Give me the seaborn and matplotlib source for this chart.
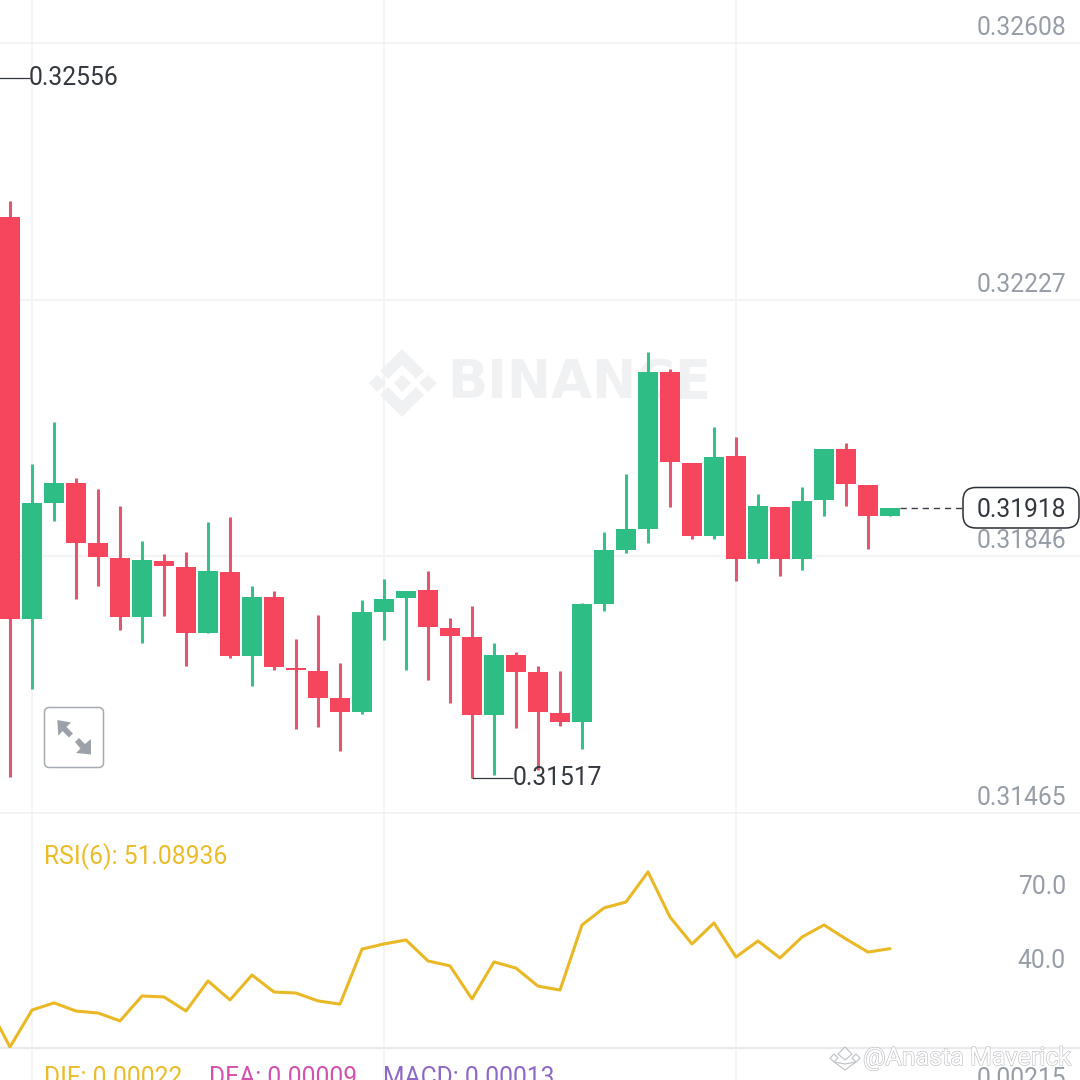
import matplotlib
matplotlib.use("Agg")
import matplotlib.pyplot as plt
import matplotlib.patheffects as pe
from matplotlib.patches import FancyBboxPatch, Polygon
import numpy as np
import pandas as pd
import seaborn as sns

# candle values
opens = [0.32350, 0.31753, 0.31925, 0.31955, 0.31866, 0.31844, 0.31756, 0.31839, 0.31830, 0.31732,
         0.31823, 0.31698, 0.31786, 0.31680, 0.31676, 0.31636, 0.31615, 0.31763, 0.31784, 0.31796,
         0.31740, 0.31726, 0.31610, 0.31700, 0.31674, 0.31613, 0.31600, 0.31775, 0.31855, 0.31887,
         0.32120, 0.31985, 0.31876, 0.31995, 0.31842, 0.31919, 0.31842, 0.31930, 0.32005, 0.31952,
         0.31906]
closes = [0.31753, 0.31925, 0.31955, 0.31866, 0.31845, 0.31756, 0.31841, 0.31832, 0.31732, 0.31824,
          0.31698, 0.31786, 0.31682, 0.31677, 0.31636, 0.31615, 0.31763, 0.31783, 0.31795, 0.31741,
          0.31728, 0.31610, 0.31700, 0.31674, 0.31615, 0.31600, 0.31775, 0.31855, 0.31887, 0.32120,
          0.31986, 0.31876, 0.31993, 0.31842, 0.31921, 0.31842, 0.31928, 0.32005, 0.31953, 0.31906,
          0.31918]
highs = [0.32374, 0.31983, 0.32045, 0.31962, 0.31946, 0.31921, 0.31869, 0.31849, 0.31852, 0.31897,
         0.31904, 0.31802, 0.31795, 0.31723, 0.31759, 0.31688, 0.31781, 0.31812, 0.31795, 0.31824,
         0.31754, 0.31772, 0.31717, 0.31704, 0.31683, 0.31676, 0.31777, 0.31882, 0.31968, 0.32149,
         0.32124, 0.31985, 0.32038, 0.32023, 0.31939, 0.31919, 0.31949, 0.32005, 0.32014, 0.31952,
         0.31918]
lows = [0.31518, 0.31649, 0.31898, 0.31783, 0.31802, 0.31737, 0.31717, 0.31757, 0.31683, 0.31732,
        0.31695, 0.31653, 0.31677, 0.31590, 0.31593, 0.31557, 0.31612, 0.31722, 0.31677, 0.31662,
        0.31628, 0.31517, 0.31521, 0.31591, 0.31529, 0.31594, 0.31560, 0.31765, 0.31851, 0.31866,
        0.31919, 0.31872, 0.31872, 0.31809, 0.31836, 0.31817, 0.31826, 0.31906, 0.31921, 0.31857,
        0.31906]
rsi_values = [28.2, 11.2, 26.2, 29.1, 25.8, 25.0, 21.8, 31.9, 31.5, 25.8, 38.0, 30.3, 40.4, 33.5,
              33.1, 29.9, 28.6, 50.9, 53.0, 54.6, 46.1, 44.1, 30.7, 45.7, 43.2, 35.9, 34.3, 60.7,
              67.6, 70.0, 82.2, 63.9, 53.0, 61.5, 47.7, 54.2, 47.3, 55.8, 60.7, 55.0, 49.7, 51.09]
price_ticks = [0.32608, 0.32227, 0.31846, 0.31465]
rsi_ticks = [70.0, 40.0]
vgrid_at = [1, 17, 33]

GREEN = "#2EBD85"
RED = "#F6465D"
GREEN_WICK = "#35C08C"
RED_WICK = "#E2566F"
GRID = "#EFF1F3"
SEP = "#E8EAEE"
GREY = "#979DA6"
DARK = "#33373E"
YELLOW = "#E9B824"
FS = 17.7

sns.set_theme(style="white")
plt.rcParams["font.family"] = ["Roboto", "DejaVu Sans"]

PX = 1080
fig = plt.figure(figsize=(10.8, 10.8), dpi=100, facecolor="white")


def panel(top, bottom):
    # axes rectangle given in picture pixels
    ax = fig.add_axes([0, 1 - bottom / PX, 1, (bottom - top) / PX], zorder=1)
    ax.patch.set_alpha(0)
    ax.set_xlim(-10 / 22, 49 - 8 / 22)
    ax.set_xticks(vgrid_at)
    ax.grid(True, axis="x", color=GRID, lw=1.1)
    ax.tick_params(length=0, labelleft=False, labelbottom=False)
    for s in ax.spines.values():
        s.set_visible(False)
    ax.set_axisbelow(True)
    return ax


# layers in picture pixels: watermark under the panels, widgets above
under = fig.add_axes([0, 0, 1, 1], zorder=0)
over = fig.add_axes([0, 0, 1, 1], zorder=3)
for a in (under, over):
    a.set_xlim(0, PX)
    a.set_ylim(PX, 0)
    a.axis("off")
    a.patch.set_alpha(0)

ax_price = panel(0, 813)
ax_rsi = panel(813, 1048)
ax_macd = panel(1048, 1080)

# price panel
df = pd.DataFrame({"idx": np.arange(len(opens)), "open": opens, "close": closes, "high": highs, "low": lows})
df["dir"] = np.where(df["close"] >= df["open"], "up", "down")
df["bottom"] = df[["open", "close"]].min(axis=1)
df["body"] = (df["close"] - df["open"]).abs()

wicks = df.melt(id_vars=["idx", "dir"], value_vars=["high", "low"], value_name="price")
sns.lineplot(data=wicks, x="idx", y="price", hue="dir", units="idx", estimator=None,
             palette={"up": GREEN_WICK, "down": RED_WICK}, lw=2.2, legend=False,
             solid_capstyle="butt", ax=ax_price, zorder=2)
for d, col in [("up", GREEN), ("down", RED)]:
    sub = df[df["dir"] == d].sort_values("idx")
    sns.barplot(data=sub, x="idx", y="body", bottom=sub["bottom"].values, color=col, saturation=1,
                native_scale=True, width=0.89, errorbar=None, ax=ax_price, zorder=3, linewidth=0)

ax_price.set_xlim(-10 / 22, 49 - 8 / 22)
ax_price.set_ylim(0.31465, 0.31465 + 813 * 0.00381 / 256.67)
ax_price.set_yticks(price_ticks)
ax_price.grid(True, axis="y", color=GRID, lw=1.1)
ax_price.set_xlabel("")
ax_price.set_ylabel("")
ax_price.spines["bottom"].set_visible(True)
ax_price.spines["bottom"].set_color(GRID)
ax_price.spines["bottom"].set_linewidth(1.1)

for v in price_ticks:
    ax_price.annotate(f"{v:.5f}", xy=(1 - 14 / PX, v), xycoords=ax_price.get_yaxis_transform(),
                      xytext=(0, 10.9), textcoords="offset points", ha="right", va="center",
                      fontsize=FS, color=GREY, zorder=5)

# high / low / last price markers
max_price = 0.32556
min_price = min(lows)
last_price = closes[-1]
ax_price.hlines(max_price, -1, 0.9, color=DARK, lw=0.9, zorder=4)
ax_price.text(0.86, max_price, f"{max_price:.5f}", ha="left", va="center", fontsize=FS, color=DARK, zorder=5)
ax_price.hlines(min_price, 21, 22.85, color=DARK, lw=0.9, zorder=4)
ax_price.text(22.86, min_price, f"{min_price:.5f}", ha="left", va="center", fontsize=FS, color=DARK, zorder=5)
ax_price.hlines(last_price, 40.45, 43.27, color="#3A3F47", lw=1.0, linestyles=(0, (4.5, 3.5)), zorder=4)

# rsi panel
rsi = pd.DataFrame({"idx": np.arange(-1, len(rsi_values) - 1), "rsi": rsi_values})
sns.lineplot(data=rsi, x="idx", y="rsi", color=YELLOW, lw=2.2, ax=ax_rsi, zorder=3)
ax_rsi.set_xlim(-10 / 22, 49 - 8 / 22)
ax_rsi.set_ylim(40 - 72 * 30 / 74, 40 + 163 * 30 / 74)
ax_rsi.set_xlabel("")
ax_rsi.set_ylabel("")
ax_rsi.spines["bottom"].set_visible(True)
ax_rsi.spines["bottom"].set_color(SEP)
ax_rsi.spines["bottom"].set_linewidth(1.6)
for v in rsi_ticks:
    ax_rsi.annotate(f"{v:.1f}", xy=(1 - 14 / PX, v), xycoords=ax_rsi.get_yaxis_transform(),
                    xytext=(0, 10.9), textcoords="offset points", ha="right", va="center",
                    fontsize=FS, color=GREY)
over.text(44, 857, "RSI(6): 51.08936", ha="left", va="center", fontsize=FS, color="#EBBC2A")

# macd header, cut off by the bottom edge as in the screenshot
over.text(44, 1078, "DIF: 0.00022", ha="left", va="center", fontsize=FS, color="#EBBC2A")
over.text(209, 1078, "DEA: 0.00009", ha="left", va="center", fontsize=FS, color="#D452AE")
over.text(383, 1078, "MACD: 0.00013", ha="left", va="center", fontsize=FS, color="#8E68C4")
over.text(1066, 1079, "0.00215", ha="right", va="center", fontsize=FS, color=GREY)

# last price tag
over.add_patch(FancyBboxPatch((963, 487.5), 116, 40.5, boxstyle="round,pad=0,rounding_size=13",
                              fc="white", ec="#2B2F36", lw=1.1))
over.text(1021.5, 510, f"{last_price:.5f}", ha="center", va="center", fontsize=FS, color=DARK)

# expand button
over.add_patch(FancyBboxPatch((44.5, 707.5), 59, 60, boxstyle="round,pad=0,rounding_size=5",
                              fc="white", ec="#A6AAB1", lw=1.1))
arrow_col = "#9DA1A9"
over.add_patch(Polygon([(57.3, 720), (71, 722.5), (66.5, 727), (73, 733.5), (69, 737.5), (62.5, 731), (58.3, 735.7)],
                       fc=arrow_col, ec="none"))
over.add_patch(Polygon([(91, 754.5), (76, 753), (80.5, 748.5), (75, 742), (79, 738), (85, 744), (91, 739)],
                       fc=arrow_col, ec="none"))

# BINANCE watermark
wm = "#F0F1F2"
under.text(447, 383, "BINANCE", ha="left", va="center", fontsize=38, fontweight="bold",
           family="DejaVu Sans", color=wm)
logo = [
    [(402, 375), (411, 383), (402, 392), (394, 383)],
    [(377, 375), (386, 383), (377, 392), (369, 383)],
    [(428, 375), (437, 383), (428, 392), (419, 383)],
    [(402, 349), (424, 371), (416, 379), (402, 365), (388, 379), (380, 371)],
    [(402, 417), (424, 395), (416, 387), (402, 401), (388, 387), (380, 395)],
]
for pts in logo:
    under.add_patch(Polygon(pts, fc=wm, ec="none"))

# platform stamp over the bottom right corner
stamp = [pe.withStroke(linewidth=0.9, foreground="#BDC0C5")]
over.text(863, 1058, "@Anasta Maverick", ha="left", va="center", fontsize=18.0,
          color="white", path_effects=stamp)
stamp_logo = [
    [(845, 1047), (852, 1054), (845, 1060), (838, 1054)],
    [(834, 1054), (838, 1058), (834, 1062), (830, 1058)],
    [(856, 1054), (860, 1058), (856, 1062), (852, 1058)],
    [(845, 1070), (856, 1062), (845, 1064), (834, 1062)],
]
for pts in stamp_logo:
    over.add_patch(Polygon(pts, fc="white", ec="#BDC0C5", lw=0.8))

fig.savefig("out.png", dpi=100, facecolor="white")
